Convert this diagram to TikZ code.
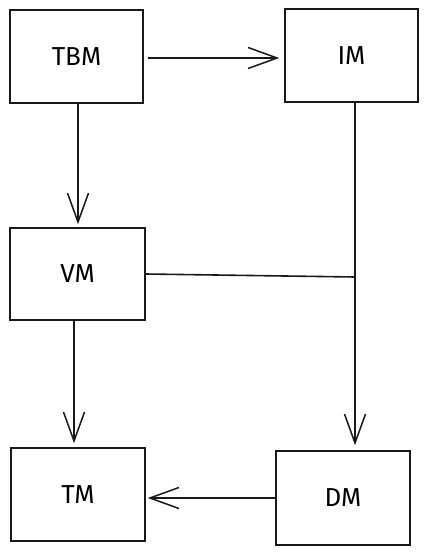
\documentclass[tikz,border=0pt]{standalone}
\usepackage{fontspec}
\setmainfont{Fira Sans}
\usetikzlibrary{arrows.meta}
\begin{document}
\begin{tikzpicture}[x=1pt,y=-1pt,
  box/.style={draw=black!90,line width=1.5pt,minimum width=133pt,minimum height=93pt,inner sep=0pt,font=\fontsize{26}{30}\selectfont},
  conn/.style={draw=black!90,line width=1.6pt},
  arr/.style={conn,-{Straight Barb[length=29pt,width=21pt,line width=1.5pt]}}]
\useasboundingbox (0,0) rectangle (429,554);
\node[box] (TBM) at (76.5,56.5) {TBM};
\node[box] (IM) at (351.5,55.5) {IM};
\node[box,minimum width=135pt,minimum height=92pt] (VM) at (77.5,274) {VM};
\node[box,minimum width=134pt] (TM) at (78,494.5) {TM};
\node[box,minimum width=134pt,minimum height=94pt] (DM) at (343,498) {DM};
\coordinate (j) at (355,277);
\draw[arr,shorten <=4pt,shorten >=5pt] (TBM.east |- 0,58) -- (IM.west |- 0,58);
\draw[arr,shorten >=3pt] (TBM.south -| 78,0) -- (VM.north -| 78,0);
\draw[arr,shorten >=5pt] (IM.south -| j) -- (DM.north -| j);
\draw[conn] (VM.east) -- (j);
\draw[arr,shorten >=4pt] (VM.south -| 74,0) -- (TM.north -| 74,0);
\draw[arr,shorten >=2pt] (DM.west |- 0,498) -- (TM.east |- 0,498);
\end{tikzpicture}
\end{document}
